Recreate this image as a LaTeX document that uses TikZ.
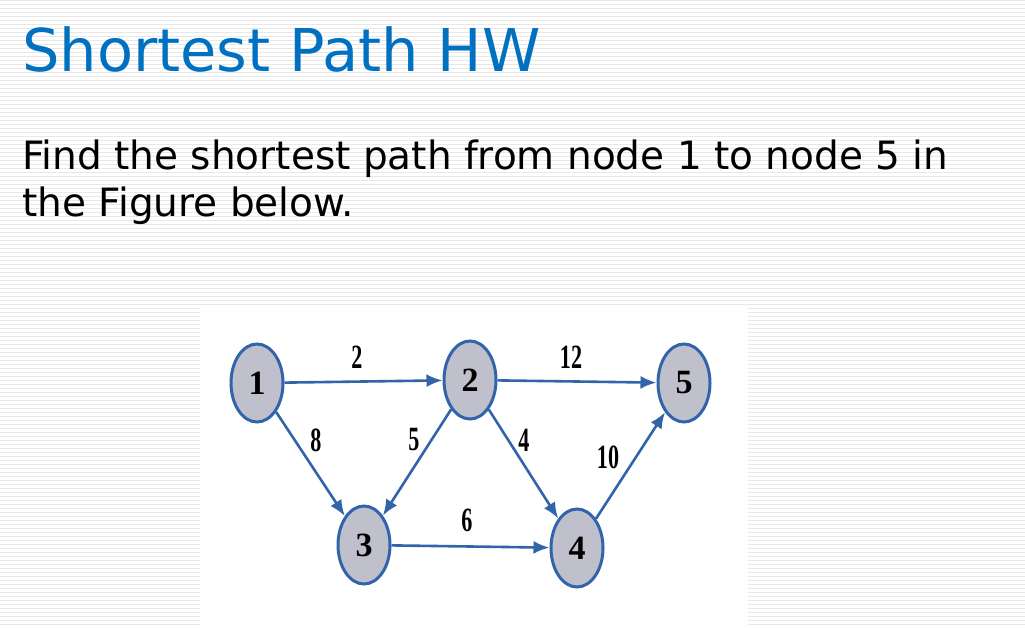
\documentclass[tikz,border=0pt]{standalone}
\usepackage{fontspec}
\usetikzlibrary{shapes.geometric,arrows.meta}
\setmainfont{DejaVu Sans}
\newfontfamily\ser{Liberation Serif}
\definecolor{ttl}{RGB}{0,112,192}
\definecolor{edg}{RGB}{50,100,170}
\definecolor{nfill}{RGB}{192,192,204}
\begin{document}
\begin{tikzpicture}[x=1pt,y=-1pt,
  vtx/.style={ellipse,draw=edg,fill=nfill,line width=3pt,minimum width=52pt,minimum height=78pt,inner sep=0pt,font=\ser\bfseries\fontsize{34}{34}\selectfont},
  arc/.style={draw=edg,line width=2.6pt,-{Latex[length=16pt,width=13pt]}},
  wt/.style={font=\ser\bfseries\fontsize{34}{34}\selectfont,xscale=0.65}]
\useasboundingbox (0,0) rectangle (1025,627);
\fill[white] (0,0) rectangle (1025,627);
\foreach \y in {0,4,...,627} \draw[gray!18,line width=0.8pt] (0,\y) -- (1025,\y);
\fill[white] (200,305) rectangle (748,627);
\node[anchor=west,text=ttl,font=\fontsize{59}{59}\selectfont,inner sep=0pt] (t) at (22,50) {Shortest Path HW};
\node[anchor=north west,align=left,font=\fontsize{39}{47}\selectfont,inner sep=0pt] (b) at (22,140) {Find the shortest path from node 1 to node 5 in\\the Figure below.};
\node[vtx] (n1) at (257,383) {1};
\node[vtx] (n2) at (470,380) {2};
\node[vtx] (n5) at (684,383) {5};
\node[vtx] (n3) at (364,545) {3};
\node[vtx] (n4) at (577,548) {4};
\draw[arc] (n1) -- (n2);
\draw[arc] (n2) -- (n5);
\draw[arc] (n1) -- (n3);
\draw[arc] (n2) -- (n3);
\draw[arc] (n2) -- (n4);
\draw[arc] (n3) -- (n4);
\draw[arc] (n4) -- (n5);
\node[wt] (w12) at (357,357) {2};
\node[wt] (w25) at (571,357) {12};
\node[wt] (w13) at (316,440) {8};
\node[wt] (w23) at (414,440) {5};
\node[wt] (w24) at (524,440) {4};
\node[wt] (w45) at (608,457) {10};
\node[wt] (w34) at (467,520) {6};
\end{tikzpicture}
\end{document}
